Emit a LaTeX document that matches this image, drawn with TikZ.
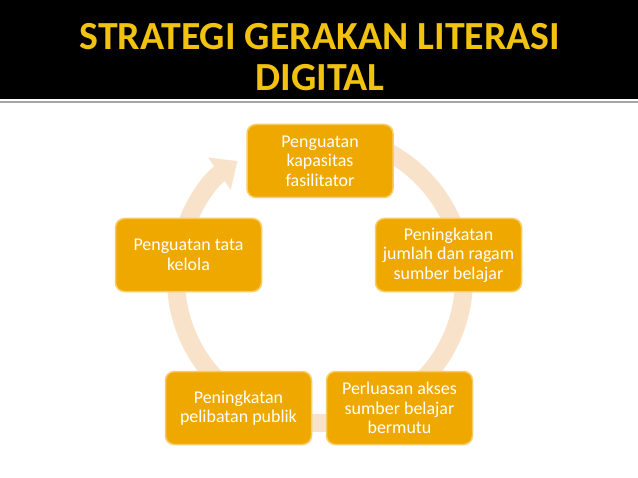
\documentclass[tikz,border=0pt]{standalone}
\usepackage{fontspec}
\setmainfont{Carlito}
\usetikzlibrary{arrows.meta}
\definecolor{boxfill}{RGB}{238,168,0}
\definecolor{boxline}{RGB}{248,204,96}
\definecolor{ringcol}{RGB}{249,226,202}
\definecolor{titlecol}{RGB}{242,194,16}
\begin{document}
\begin{tikzpicture}[x=1bp,y=-1bp,
  stagebox/.style={rectangle, rounded corners=9bp, fill=boxfill, draw=boxline,
    line width=1.5bp, minimum width=146bp, minimum height=73bp,
    align=center, text=white, font=\fontsize{18}{19.5}\selectfont, inner sep=0pt},
  titletext/.style={text=titlecol, font=\fontsize{40}{44}\bfseries\selectfont, anchor=base}]
\useasboundingbox (0,0) rectangle (638,478);
\fill[white] (0,0) rectangle (638,478);
\fill[black] (0,0) rectangle (638,99.5);
\draw[gray!70, line width=2bp] (0,102.5) -- (638,102.5);
\node[titletext] (t1) at (320,50) {STRATEGI GERAKAN LITERASI};
\node[titletext] (t2) at (320,91) {DIGITAL};
\coordinate (rc) at (320,279);
\draw[ringcol, line width=18bp, -{Triangle[width=38bp,length=22bp]}]
  ([shift={(-80:144)}]rc) arc[start angle=-80, end angle=235, radius=144];
\node[stagebox] (top) at (320,161) {Penguatan\\kapasitas\\fasilitator};
\node[stagebox] (right) at (448.5,255) {Peningkatan\\jumlah dan ragam\\sumber belajar};
\node[stagebox] (bright) at (399.5,408) {Perluasan akses\\sumber belajar\\bermutu};
\node[stagebox] (bleft) at (238.5,408) {Peningkatan\\pelibatan publik};
\node[stagebox] (left) at (188.5,255) {Penguatan tata\\kelola};
\end{tikzpicture}
\end{document}
